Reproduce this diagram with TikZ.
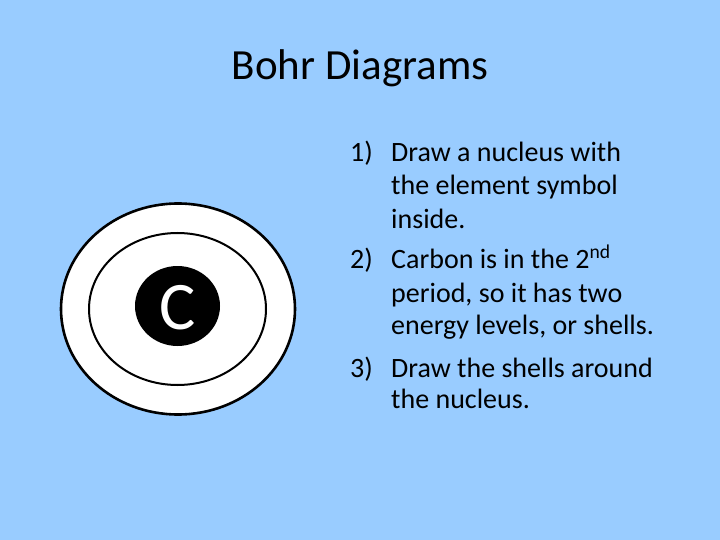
\documentclass[tikz,border=0pt]{standalone}
\usepackage{fontspec}
\setmainfont{Carlito}
\usetikzlibrary{shapes.geometric,positioning}
\definecolor{slideblue}{RGB}{153,204,255}
\tikzset{
  shell/.style={ellipse, draw=black, fill=white, inner sep=0pt},
  nucleus/.style={ellipse, fill=black, inner sep=0pt},
  steptext/.style={anchor=base west, inner sep=0pt, font=\fontsize{28}{32}\selectfont},
  stepnum/.style={steptext},
  title/.style={anchor=base, inner sep=0pt, font=\fontsize{43}{50}\selectfont}
}
\begin{document}
\begin{tikzpicture}[x=1pt, y=-1pt]
  % slide background
  \fill[slideblue] (0,0) rectangle (720,540);
  \useasboundingbox (0,0) rectangle (720,540);

  \node[title] (T) at (360,80) {Bohr Diagrams};

  %%%%%%%%%%%%%%%%%%%%%%%%%%%%%%%%%%%%%%
  % ATOM
  %%%%%%%%%%%%%%%%%%%%%%%%%%%%%%%%%%%%%%
  \node[shell, line width=2.6pt, minimum width=234pt, minimum height=211pt] (shell2) at (178,309) {};
  \node[shell, line width=2pt, minimum width=177pt, minimum height=152pt] (shell1) at (177.5,309) {};
  \node[nucleus, minimum width=85pt, minimum height=80pt] (nuc) at (177.5,306) {};
  \node[anchor=base, inner sep=0pt, text=white, font=\fontsize{68}{70}\selectfont] (sym) at (178,329) {C};

  %%%%%%%%%%%%%%%%%%%%%%%%%%%%%%%%%%%%%%
  % STEPS
  %%%%%%%%%%%%%%%%%%%%%%%%%%%%%%%%%%%%%%
  % step 1
  \node[stepnum] (n1) at (350,162) {1)};
  \node[steptext] (s1a) at (391,162) {Draw a nucleus with};
  \node[steptext] (s1b) at (391,195) {the element symbol};
  \node[steptext] (s1c) at (391,229) {inside.};

  % step 2
  \node[stepnum] (n2) at (350,268) {2)};
  \node[steptext] (s2a) at (391,268) {Carbon is in the 2\textsuperscript{nd}};
  \node[steptext] (s2b) at (391,302) {period, so it has two};
  \node[steptext] (s2c) at (391,334) {energy levels, or shells.};

  % step 3
  \node[stepnum] (n3) at (350,377) {3)};
  \node[steptext] (s3a) at (391,377) {Draw the shells around};
  \node[steptext] (s3b) at (391,408) {the nucleus.};
\end{tikzpicture}
\end{document}
